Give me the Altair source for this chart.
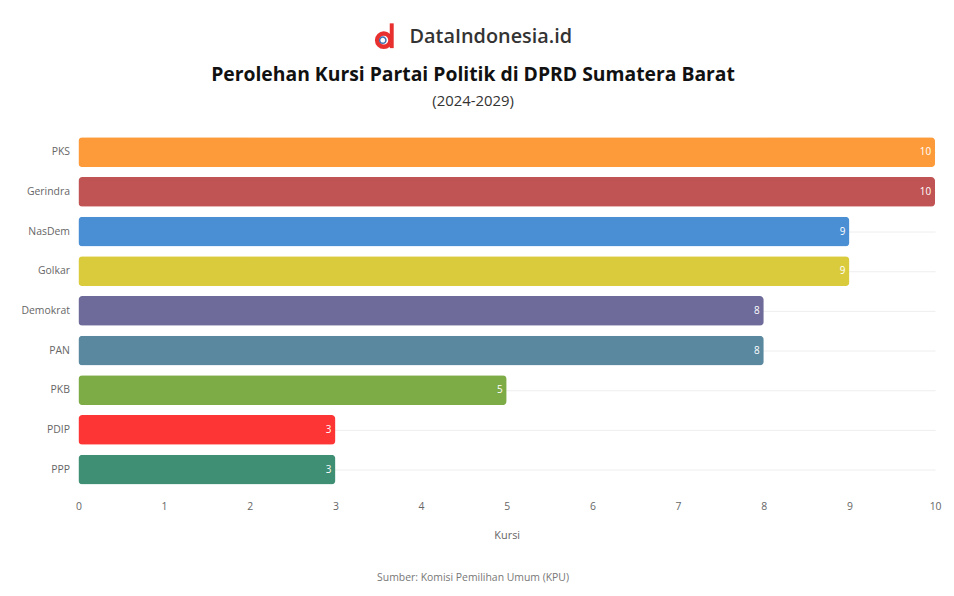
import altair as alt
import pandas as pd

partai = ["PKS", "Gerindra", "NasDem", "Golkar", "Demokrat", "PAN", "PKB", "PDIP", "PPP"]
kursi = [10, 10, 9, 9, 8, 8, 5, 3, 3]
warna = ["#fd9b3a", "#c05353", "#4a8ed3", "#d9cb3c", "#6e6b9a", "#5a889f", "#7dab46", "#fe3535", "#3f8f74"]
x_ticks = list(range(0, 11))

df = pd.DataFrame({"Partai": partai, "Kursi": kursi, "Warna": warna})

W, H = 864, 360
FONT = "Open Sans"

base = alt.Chart(df)

bars = base.mark_bar(cornerRadius=4).encode(
    y=alt.Y("Partai:N", sort=partai, title=None,
            scale=alt.Scale(paddingInner=0.25, paddingOuter=0.125),
            axis=alt.Axis(labelFontSize=10.5, labelColor="#666", labelPadding=9, ticks=False,
                          domain=False, grid=True, gridColor="#eeeeee", labelFont=FONT)),
    x=alt.X("Kursi:Q", title="Kursi",
            scale=alt.Scale(domain=[0, 10], nice=False),
            axis=alt.Axis(values=x_ticks, format="d", labelFontSize=10.5, labelColor="#666", ticks=False,
                          domain=False, grid=False, labelPadding=12, labelFlush=False, titleFontSize=11,
                          titleColor="#666", titleFontWeight="normal", titlePadding=18,
                          labelFont=FONT, titleFont=FONT)),
    color=alt.Color("Warna:N", scale=None),
)

labels = base.mark_text(align="right", dx=-4, color="white", fontSize=10, font=FONT).encode(
    y=alt.Y("Partai:N", sort=partai),
    x="Kursi:Q",
    text="Kursi:Q",
)

title = alt.Chart(pd.DataFrame({"t": ["Perolehan Kursi Partai Politik di DPRD Sumatera Barat"]})).mark_text(
    fontSize=19.5, fontWeight="bold", color="#111", font=FONT, align="center"
).encode(x=alt.value(398), y=alt.value(-58), text="t:N")

subtitle = alt.Chart(pd.DataFrame({"t": ["(2024-2029)"]})).mark_text(
    fontSize=15, color="#333", font=FONT, align="center"
).encode(x=alt.value(398), y=alt.value(-32), text="t:N")

brand = alt.Chart(pd.DataFrame({"t": ["DataIndonesia.id"]})).mark_text(
    fontSize=20, color="#333", font=FONT, align="left", fontWeight=600
).encode(x=alt.value(334), y=alt.value(-96), text="t:N")

logo_ring = alt.Chart(pd.DataFrame({"t": [1]})).mark_point(
    shape="circle", size=180, strokeWidth=4.5, color="#e8302f", filled=False, opacity=1
).encode(x=alt.value(308), y=alt.value(-93))

logo_stem = alt.Chart(pd.DataFrame({"t": [1]})).mark_rule(
    color="#e8302f", strokeWidth=4
).encode(x=alt.value(316), y=alt.value(-110), y2=alt.value(-85))

logo_glass = alt.Chart(pd.DataFrame({"t": [1]})).mark_point(
    shape="circle", size=40, strokeWidth=1.5, color="#3d6fb0", filled=False, opacity=1
).encode(x=alt.value(307), y=alt.value(-93))

source = alt.Chart(pd.DataFrame({"t": ["Sumber: Komisi Pemilihan Umum (KPU)"]})).mark_text(
    fontSize=10.5, color="#777", font=FONT, align="center"
).encode(x=alt.value(398), y=alt.value(449), text="t:N")

chart = alt.layer(bars, labels, title, subtitle, brand, logo_ring, logo_stem, logo_glass, source).properties(
    width=W, height=H,
    background="white",
    autosize=alt.AutoSizeParams(type="none"),
    padding={"left": 71, "top": 123, "right": 11, "bottom": 97},
).configure_view(stroke=None)

chart.save("out.html", embed_options={"renderer": "svg", "actions": False})
